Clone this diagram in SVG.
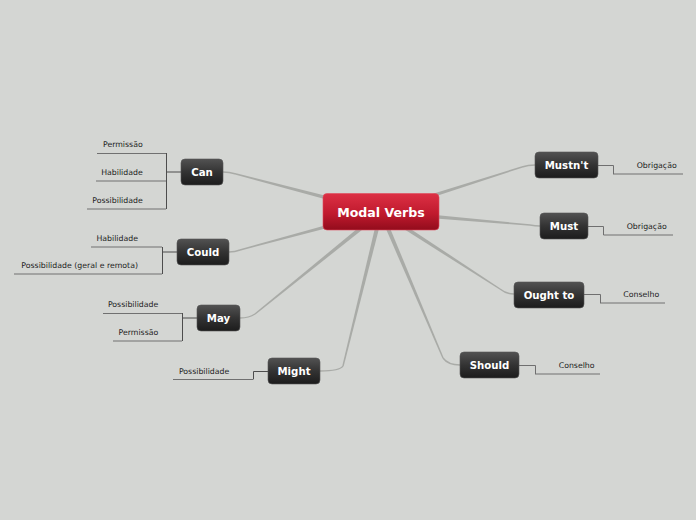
<svg xmlns="http://www.w3.org/2000/svg" width="696" height="520" viewBox="0 0 696 520">
<defs>
<linearGradient id="gDark" x1="0" y1="0" x2="0" y2="1">
<stop offset="0" stop-color="#525252"/>
<stop offset="0.5" stop-color="#333333"/>
<stop offset="1" stop-color="#1c1c1c"/>
</linearGradient>
<linearGradient id="gRed" x1="0" y1="0" x2="0" y2="1">
<stop offset="0" stop-color="#dc3044"/>
<stop offset="0.55" stop-color="#c01a2e"/>
<stop offset="1" stop-color="#920c1c"/>
</linearGradient>
<style>
.main{fill:#a9aba7;stroke:none}
.curve{fill:none;stroke:#a9aba7;stroke-width:1.4}
.br{fill:none;stroke:#4d4d4d;stroke-width:1}
.brr{fill:none;stroke:#6f6f6f;stroke-width:1}
.ul{fill:none;stroke:#707070;stroke-width:1}
.node{fill:url(#gDark);stroke:#555;stroke-width:0.6}
.nt{font-family:"DejaVu Sans",sans-serif;font-weight:bold;font-size:10.2px;fill:#ffffff;text-anchor:middle}
.st{font-family:"DejaVu Sans",sans-serif;font-size:7.8px;fill:#222222}
.e{text-anchor:end}
</style>
</defs>
<rect width="696" height="520" fill="#d4d6d3"/>
<g id="connectors">
<polygon class="main" points="381.56,209.87 236.18,173.32 235.82,174.68 380.44,214.13"/>
<path class="curve" d="M236,174 Q229,172 223,172"/>
<polygon class="main" points="380.43,209.88 239.82,249.32 240.18,250.68 381.57,214.12"/>
<path class="curve" d="M240,250 Q235,252 229,252"/>
<polygon class="main" points="379.62,210.29 254.56,313.46 255.44,314.54 382.38,213.71"/>
<path class="curve" d="M255,314 Q249,318 240,318"/>
<polygon class="main" points="378.86,211.47 342.32,365.83 343.68,366.17 383.14,212.53"/>
<path class="curve" d="M343,366 Q340,371 320,371"/>
<polygon class="main" points="381.67,214.10 522.21,167.67 521.79,166.33 380.33,209.90"/>
<path class="curve" d="M522,167 Q528,165 535,165"/>
<polygon class="main" points="380.81,214.19 529.94,225.70 530.06,224.30 381.19,209.81"/>
<path class="curve" d="M530,225 Q535,226 540,226"/>
<polygon class="main" points="379.80,213.85 499.62,289.59 500.38,288.41 382.20,210.15"/>
<path class="curve" d="M500,289 Q506,294 514,294"/>
<polygon class="main" points="378.97,212.86 442.36,358.27 443.64,357.73 383.03,211.14"/>
<path class="curve" d="M443,358 Q448,365 460,365"/>
<path class="br" d="M181,172 H166.5 M166.5,153 V209"/>
<path class="br" d="M177,252 H162.5 M162.5,247 V274"/>
<path class="br" d="M197,318 H182.5 M182.5,313 V341"/>
<path class="br" d="M268,371.5 H253.5 V379"/>
<path class="brr" d="M598,165.5 H613.5 V174"/>
<path class="brr" d="M588,226.5 H603.5 V235"/>
<path class="brr" d="M584,294.5 H600.5 V303"/>
<path class="brr" d="M519,365.5 H535.5 V374"/>
</g>
<g id="central">
<rect x="323" y="193.5" width="116" height="36.5" rx="4" fill="url(#gRed)" stroke="#e0485a" stroke-width="0.6"/>
<text x="381" y="216.7" font-family="DejaVu Sans, sans-serif" font-weight="bold" font-size="12.6" fill="#ffffff" text-anchor="middle">Modal Verbs</text>
</g>
<g id="can">
<rect class="node" x="181" y="159" width="42" height="26" rx="4"/>
<text class="nt" x="202" y="175.7">Can</text>
</g>
<g id="can-permissao"><path class="ul" d="M97,153.5 H166"/><text class="st e" x="142.7" y="147">Permissão</text></g>
<g id="can-habilidade"><path class="ul" d="M96,181 H166"/><text class="st e" x="142.7" y="175">Habilidade</text></g>
<g id="can-possibilidade"><path class="ul" d="M87,209 H166"/><text class="st e" x="142.7" y="203">Possibilidade</text></g>
<g id="could">
<rect class="node" x="177" y="239" width="52" height="26" rx="4"/>
<text class="nt" x="203" y="255.7">Could</text>
</g>
<g id="could-habilidade"><path class="ul" d="M91,247 H162"/><text class="st e" x="138" y="241">Habilidade</text></g>
<g id="could-possibilidade"><path class="ul" d="M14,274 H162"/><text class="st e" x="138" y="268">Possibilidade (geral e remota)</text></g>
<g id="may">
<rect class="node" x="197" y="305" width="43" height="26" rx="4"/>
<text class="nt" x="218.5" y="321.7">May</text>
</g>
<g id="may-possibilidade"><path class="ul" d="M103,313.5 H182"/><text class="st e" x="158.3" y="307">Possibilidade</text></g>
<g id="may-permissao"><path class="ul" d="M113,341 H182"/><text class="st e" x="158.3" y="335">Permissão</text></g>
<g id="might">
<rect class="node" x="268" y="358" width="52" height="26" rx="4"/>
<text class="nt" x="294" y="374.7">Might</text>
</g>
<g id="might-possibilidade"><path class="ul" d="M173,379.5 H253.5"/><text class="st e" x="229.3" y="373.5">Possibilidade</text></g>
<g id="mustnt">
<rect class="node" x="535" y="152" width="63" height="26" rx="4"/>
<text class="nt" x="566.5" y="168.7">Mustn't</text>
</g>
<g id="mustnt-obrigacao"><path class="ul" d="M613,174 H683"/><text class="st" x="636.7" y="168">Obrigação</text></g>
<g id="must">
<rect class="node" x="540" y="213" width="48" height="26" rx="4"/>
<text class="nt" x="564" y="229.7">Must</text>
</g>
<g id="must-obrigacao"><path class="ul" d="M603.5,235 H673"/><text class="st" x="626.7" y="229">Obrigação</text></g>
<g id="ought">
<rect class="node" x="514" y="282" width="70" height="26" rx="4"/>
<text class="nt" x="549" y="298.7">Ought to</text>
</g>
<g id="ought-conselho"><path class="ul" d="M600,303 H665"/><text class="st" x="623.3" y="297">Conselho</text></g>
<g id="should">
<rect class="node" x="460" y="352" width="59" height="26" rx="4"/>
<text class="nt" x="489.5" y="368.7">Should</text>
</g>
<g id="should-conselho"><path class="ul" d="M535,374 H600"/><text class="st" x="558.7" y="368">Conselho</text></g>
</svg>
